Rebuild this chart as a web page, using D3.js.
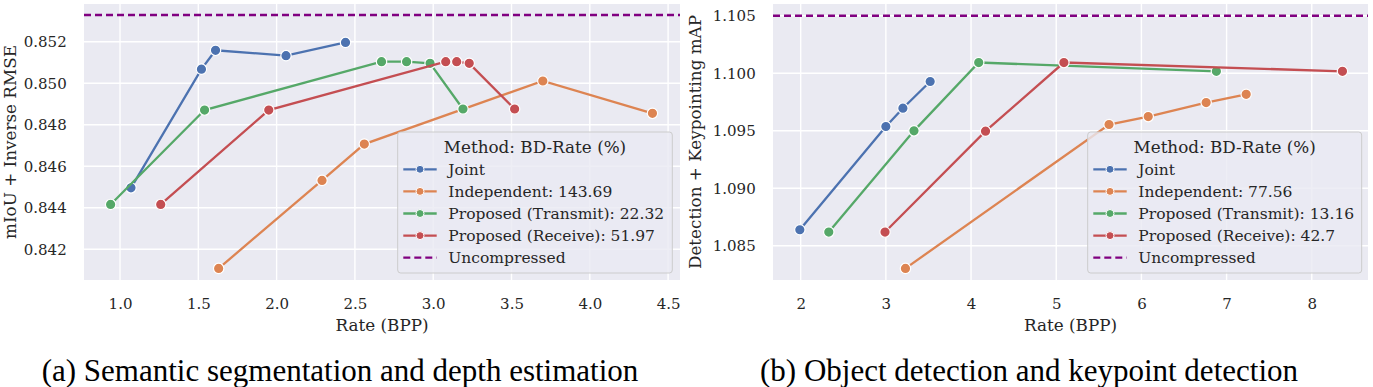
<!DOCTYPE html>
<html>
<head>
<meta charset="utf-8">
<script src="https://cdn.jsdelivr.net/npm/d3@7"></script>
<style>
  body { margin: 0; background: #fff; }
  svg text { font-family: "DejaVu Serif", serif; fill: #262626; }
</style>
</head>
<body>
<svg width="1373" height="387"></svg>
<script>
// Data: semantic segmentation + depth (left)
const segJointX = [1.07, 1.52, 1.61, 2.06, 2.44];
const segJointY = [0.84496, 0.85068, 0.85159, 0.85133, 0.85197];
const segIndepX = [1.63, 2.29, 2.56, 3.70, 4.40];
const segIndepY = [0.84108, 0.84532, 0.84707, 0.85011, 0.84855];
const segTransX = [0.94, 1.54, 2.67, 2.83, 2.98, 3.19];
const segTransY = [0.84416, 0.84871, 0.85104, 0.85104, 0.85096, 0.84876];
const segRecvX = [1.26, 1.95, 3.08, 3.15, 3.23, 3.52];
const segRecvY = [0.84416, 0.84871, 0.85104, 0.85104, 0.85096, 0.84876];
const segUncompressed = 0.85329;
const segXTicks = [1.0, 1.5, 2.0, 2.5, 3.0, 3.5, 4.0, 4.5];
const segYTicks = [0.842, 0.844, 0.846, 0.848, 0.850, 0.852];
const segLegend = ["Joint", "Independent: 143.69", "Proposed (Transmit): 22.32", "Proposed (Receive): 51.97", "Uncompressed"];

// Data: object detection + keypoints (right)
const detJointX = [1.99, 3.00, 3.20, 3.52];
const detJointY = [1.08639, 1.09537, 1.09696, 1.09928];
const detIndepX = [3.23, 5.62, 6.08, 6.76, 7.23];
const detIndepY = [1.08303, 1.09554, 1.09623, 1.09745, 1.09817];
const detTransX = [2.33, 3.33, 4.09, 6.88];
const detTransY = [1.08619, 1.09499, 1.10093, 1.10017];
const detRecvX = [2.99, 4.17, 5.09, 8.36];
const detRecvY = [1.08619, 1.09496, 1.10093, 1.10017];
const detUncompressed = 1.105;
const detXTicks = [2, 3, 4, 5, 6, 7, 8];
const detYTicks = [1.085, 1.090, 1.095, 1.100, 1.105];
const detLegend = ["Joint", "Independent: 77.56", "Proposed (Transmit): 13.16", "Proposed (Receive): 42.7", "Uncompressed"];

const colors = ["#4C72B0", "#DD8452", "#55A868", "#C44E52"];
const uncompColor = "#800080";

const svg = d3.select("svg");

function zip(xs, ys) { return xs.map((x, i) => [x, ys[i]]); }

function drawPanel(opt) {
    const g = svg.append("g");
    const x = d3.scaleLinear().domain(opt.xDomain).range([opt.left, opt.right]);
    const y = d3.scaleLinear().domain(opt.yDomain).range([opt.bottom, opt.top]);

    // background
    g.append("rect")
        .attr("x", opt.left).attr("y", opt.top)
        .attr("width", opt.right - opt.left).attr("height", opt.bottom - opt.top)
        .attr("fill", "#EAEAF2");

    // grid
    g.selectAll(".gx").data(opt.xTicks).enter().append("line")
        .attr("x1", d => x(d)).attr("x2", d => x(d))
        .attr("y1", opt.top).attr("y2", opt.bottom)
        .attr("stroke", "#fff").attr("stroke-width", 1.4);
    g.selectAll(".gy").data(opt.yTicks).enter().append("line")
        .attr("y1", d => y(d)).attr("y2", d => y(d))
        .attr("x1", opt.left).attr("x2", opt.right)
        .attr("stroke", "#fff").attr("stroke-width", 1.4);

    // axes (no domain line, no ticks)
    const xAxis = d3.axisBottom(x).tickValues(opt.xTicks).tickFormat(opt.xFormat).tickSize(0).tickPadding(18.5);
    const yAxis = d3.axisLeft(y).tickValues(opt.yTicks).tickFormat(d3.format(".3f")).tickSize(0).tickPadding(17.3);
    const ax = g.append("g").attr("transform", `translate(0,${opt.bottom})`).call(xAxis);
    const ay = g.append("g").attr("transform", `translate(${opt.left},0)`).call(yAxis);
    [ax, ay].forEach(a => {
        a.select(".domain").remove();
        a.selectAll("text").attr("font-size", 15).attr("font-family", "DejaVu Serif").attr("fill", "#262626");
    });

    // axis labels
    g.append("text")
        .attr("x", (opt.left + opt.right) / 2).attr("y", 331)
        .attr("text-anchor", "middle").attr("font-size", 16.8)
        .text("Rate (BPP)");
    g.append("text")
        .attr("transform", `translate(${opt.yLabelX},${(opt.top + opt.bottom) / 2}) rotate(-90)`)
        .attr("text-anchor", "middle").attr("font-size", 16.8)
        .text(opt.yLabel);

    // uncompressed line
    g.append("line")
        .attr("x1", opt.left).attr("x2", opt.right)
        .attr("y1", y(opt.uncompressed)).attr("y2", y(opt.uncompressed))
        .attr("stroke", uncompColor).attr("stroke-width", 2.3)
        .attr("stroke-dasharray", "7,4");

    const line = d3.line().x(d => x(d[0])).y(d => y(d[1]));
    opt.series.forEach((s, i) => {
        g.append("path").datum(s)
            .attr("d", line).attr("fill", "none")
            .attr("stroke", colors[i]).attr("stroke-width", 2.3);
        g.selectAll(".pt" + i).data(s).enter().append("circle")
            .attr("cx", d => x(d[0])).attr("cy", d => y(d[1]))
            .attr("r", 5.2).attr("fill", colors[i])
            .attr("stroke", "#fff").attr("stroke-width", 1.2);
    });

    // legend
    const lg = g.append("g");
    lg.append("rect")
        .attr("x", opt.legX).attr("y", 132)
        .attr("width", opt.legW).attr("height", 141)
        .attr("rx", 3)
        .attr("fill", "#EAEAF2").attr("fill-opacity", 0.8)
        .attr("stroke", "#cccccc").attr("stroke-width", 1);
    lg.append("text")
        .attr("x", opt.legX + opt.legW / 2).attr("y", 153)
        .attr("text-anchor", "middle").attr("font-size", 16.8)
        .text("Method: BD-Rate (%)");
    opt.legend.forEach((name, i) => {
        const cy = 169.3 + i * 22.1;
        const hx = opt.legX + 5.6;
        if (i < 4) {
            lg.append("line")
                .attr("x1", hx).attr("x2", hx + 33.4)
                .attr("y1", cy).attr("y2", cy)
                .attr("stroke", colors[i]).attr("stroke-width", 2.3);
            lg.append("circle")
                .attr("cx", hx + 16.7).attr("cy", cy).attr("r", 4)
                .attr("fill", colors[i]).attr("stroke", "#fff").attr("stroke-width", 1);
        } else {
            lg.append("line")
                .attr("x1", hx).attr("x2", hx + 33.4)
                .attr("y1", cy).attr("y2", cy)
                .attr("stroke", uncompColor).attr("stroke-width", 2.3)
                .attr("stroke-dasharray", "7,4");
        }
        lg.append("text")
            .attr("x", opt.legX + 50.6).attr("y", cy + 5.7)
            .attr("font-size", 15.5)
            .text(name);
    });

    // caption
    g.append("text")
        .attr("x", opt.capX).attr("y", 381)
        .attr("text-anchor", "middle")
        .attr("font-size", 31).attr("fill", "#000")
        .style("font-family", "'Liberation Serif', serif")
        .style("fill", "#000")
        .text(opt.caption);
}

drawPanel({
    left: 84, right: 680, top: 4, bottom: 280,
    xDomain: [0.77, 4.576], yDomain: [0.84052, 0.85382],
    xTicks: segXTicks, yTicks: segYTicks, xFormat: d3.format(".1f"),
    uncompressed: segUncompressed,
    series: [zip(segJointX, segJointY), zip(segIndepX, segIndepY), zip(segTransX, segTransY), zip(segRecvX, segRecvY)],
    yLabel: "mIoU + Inverse RMSE", yLabelX: 16,
    legend: segLegend, legX: 397.7, legW: 274.6,
    caption: "(a) Semantic segmentation and depth estimation", capX: 340
});

drawPanel({
    left: 773, right: 1368, top: 4, bottom: 280,
    xDomain: [1.675, 8.66], yDomain: [1.08202, 1.10602],
    xTicks: detXTicks, yTicks: detYTicks, xFormat: d3.format("d"),
    uncompressed: detUncompressed,
    series: [zip(detJointX, detJointY), zip(detIndepX, detIndepY), zip(detTransX, detTransY), zip(detRecvX, detRecvY)],
    yLabel: "Detection + Keypointing mAP", yLabelX: 701,
    legend: detLegend, legX: 1087.7, legW: 274,
    caption: "(b) Object detection and keypoint detection", capX: 1029
});
</script>
</body>
</html>
